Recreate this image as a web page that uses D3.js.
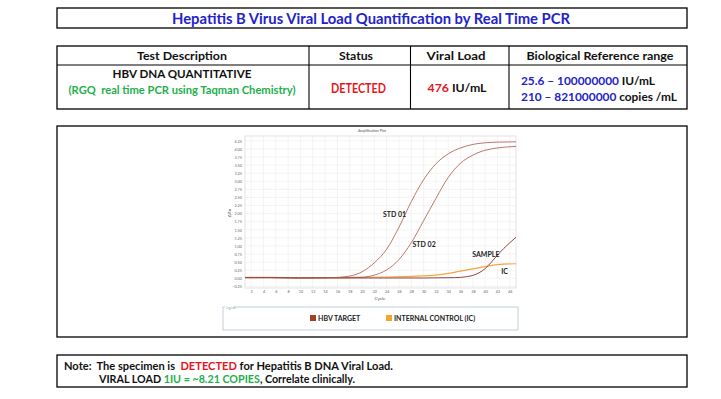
<!DOCTYPE html>
<html>
<head>
<meta charset="utf-8">
<script src="https://cdn.jsdelivr.net/npm/d3@7/dist/d3.min.js"></script>
<style>
  body { margin: 0; background: #fff; }
  svg text { white-space: pre; }
</style>
</head>
<body>
<div id="chart"></div>
<script>
  // values
  var xTicks = [2, 4, 6, 8, 10, 12, 14, 16, 18, 20, 22, 24, 26, 28, 30, 32, 34, 36, 38, 40, 42, 44];
  var yTicks = [-0.25, 0, 0.25, 0.5, 0.75, 1, 1.25, 1.5, 1.75, 2, 2.25, 2.5, 2.75, 3, 3.25, 3.5, 3.75, 4, 4.25];

  var std01Cycles = [1, 5, 10, 15, 18, 20, 22, 24, 26, 28, 30, 32, 34, 36, 38, 40, 42, 45];
  var std01Values = [0.02, 0.02, 0.01, 0.02, 0.07, 0.2, 0.48, 0.9, 1.58, 2.37, 3.05, 3.54, 3.85, 4.03, 4.14, 4.19, 4.21, 4.22];

  var std02Cycles = [1, 5, 10, 15, 18, 20, 22, 24, 26, 28, 30, 32, 34, 36, 38, 40, 42, 45];
  var std02Values = [0.02, 0.02, 0.01, 0.02, 0.02, 0.03, 0.1, 0.26, 0.58, 1.1, 1.78, 2.47, 3.12, 3.56, 3.81, 3.96, 4.03, 4.08];

  var sampleCycles = [1, 5, 10, 15, 20, 25, 30, 35, 37, 38, 39, 40, 41, 42, 43, 44, 45];
  var sampleValues = [0.02, 0.02, 0.01, 0.01, 0.01, 0.01, 0.01, 0.02, 0.05, 0.09, 0.17, 0.3, 0.5, 0.72, 0.92, 1.1, 1.27];

  var icCycles = [1, 5, 10, 15, 20, 24, 28, 32, 34, 36, 38, 40, 42, 45];
  var icValues = [0.03, 0.03, 0.02, 0.02, 0.03, 0.04, 0.06, 0.1, 0.15, 0.22, 0.29, 0.36, 0.42, 0.45];

  var curveNames = ['STD 01', 'STD 02', 'SAMPLE', 'IC'];
  var labelCycles = [23.4, 28.2, 37.9, 42.6];
  var labelValues = [1.88, 0.96, 0.66, 0.14];

  var legendNames = ['HBV TARGET', 'INTERNAL CONTROL (IC)'];

  var blue = '#2323c8', red = '#e8141b', green = '#22b04b', ink = '#111';
  var font = 'Lato, "Open Sans", sans-serif';

  var svg = d3.select('#chart').append('svg')
              .attr('width', 721)
              .attr('height', 399)
              .style('font-family', font);

  // helper: squeeze a text to the width it has in the report
  function txt(x, y, w, size, anchor, parts){
    var t = svg.append('text')
               .attr('x', x)
               .attr('y', y)
               .attr('font-size', size)
               .attr('font-weight', 'bold')
               .attr('text-anchor', anchor)
               .attr('fill', ink);
    parts.forEach(function(p){
      t.append('tspan').attr('fill', p[1] || ink).text(p[0]);
    });
    t.attr('textLength', w).attr('lengthAdjust', 'spacingAndGlyphs');
    return t;
  }

  function box(x, y, w, h){
    svg.append('rect')
       .attr('x', x).attr('y', y)
       .attr('width', w).attr('height', h)
       .attr('fill', 'none')
       .attr('stroke', '#000')
       .attr('stroke-width', 1.3);
  }

  // title
  box(57, 8, 630, 20);
  txt(371, 23.5, 398, 14.5, 'middle', [['Hepatitis B Virus Viral Load Quantification by Real Time PCR', blue]]);

  // table
  box(57, 46, 630, 63);
  svg.append('line').attr('x1', 57).attr('x2', 687).attr('y1', 65).attr('y2', 65).attr('stroke', '#000').attr('stroke-width', 1.1);
  [309, 410.5, 509].forEach(function(cx){
    svg.append('line').attr('x1', cx).attr('x2', cx).attr('y1', 46).attr('y2', 109).attr('stroke', '#000').attr('stroke-width', 1.1);
  });
  txt(182, 60, 90, 12, 'middle', [['Test Description']]);
  txt(356, 60, 34, 12, 'middle', [['Status']]);
  txt(456, 60, 59, 12, 'middle', [['Viral Load']]);
  txt(600, 60, 147, 12, 'middle', [['Biological Reference range']]);

  txt(182, 77.5, 139, 12, 'middle', [['HBV DNA QUANTITATIVE']]);
  txt(182, 94, 227, 11, 'middle', [['(RGQ  real time PCR using Taqman Chemistry)', green]]);
  txt(358.5, 92.5, 55, 12.5, 'middle', [['DETECTED', red]]);
  txt(457, 92, 59, 12, 'middle', [['476', red], [' IU/mL']]);
  txt(521, 85, 134, 12, 'start', [['25.6 \u2013 100000000', blue], [' IU/mL']]);
  txt(521, 101, 156, 12, 'start', [['210 \u2013 821000000', blue], [' copies /mL']]);

  // chart panel
  box(57, 126, 630, 211);

  var x = d3.scaleLinear().domain([1, 45]).range([245, 516]);
  var y = d3.scaleLinear().domain([-0.3, 4.4]).range([288, 136]);

  var plot = svg.append('g');

  plot.append('g').selectAll('line')
      .data(yTicks)
      .enter()
      .append('line')
      .attr('x1', x.range()[0]).attr('x2', x.range()[1])
      .attr('y1', function(d){ return y(d); })
      .attr('y2', function(d){ return y(d); })
      .attr('stroke', '#ececec')
      .attr('stroke-width', 0.6);

  plot.append('g').selectAll('line')
      .data(xTicks)
      .enter()
      .append('line')
      .attr('x1', function(d){ return x(d); })
      .attr('x2', function(d){ return x(d); })
      .attr('y1', y.range()[0]).attr('y2', y.range()[1])
      .attr('stroke', '#ececec')
      .attr('stroke-width', 0.6);

  plot.append('rect')
      .attr('x', 245).attr('y', 136)
      .attr('width', 271).attr('height', 152)
      .attr('fill', 'none')
      .attr('stroke', '#d8d8d8')
      .attr('stroke-width', 0.7);

  var yAxis = plot.append('g')
      .attr('transform', 'translate(245,0)')
      .call(d3.axisLeft(y).tickValues(yTicks).tickSize(0).tickPadding(3).tickFormat(d3.format('.2f')));
  var xAxis = plot.append('g')
      .attr('transform', 'translate(0,288)')
      .call(d3.axisBottom(x).tickValues(xTicks).tickSize(0).tickPadding(2.5));
  [yAxis, xAxis].forEach(function(a){
    a.select('.domain').remove();
    a.selectAll('text').attr('font-size', 3.8).attr('fill', '#666').style('font-family', font);
  });

  plot.append('text')
      .attr('x', 380).attr('y', 300)
      .attr('text-anchor', 'middle')
      .attr('font-size', 4.6)
      .attr('fill', '#555')
      .text('Cycle');
  plot.append('text')
      .attr('transform', 'translate(231,213) rotate(-90)')
      .attr('text-anchor', 'middle')
      .attr('font-size', 4.6)
      .attr('fill', '#555')
      .text('\u0394Rn');
  plot.append('text')
      .attr('x', 372).attr('y', 131.5)
      .attr('text-anchor', 'middle')
      .attr('font-size', 3.6)
      .attr('fill', '#555')
      .text('Amplification Plot');

  var line = d3.line()
               .x(function(d){ return x(d[0]); })
               .y(function(d){ return y(d[1]); })
               .curve(d3.curveMonotoneX);

  var series = [
    { c: icCycles, v: icValues, color: '#f4a444', w: 1.2 },
    { c: std01Cycles, v: std01Values, color: '#b5675c', w: 0.9 },
    { c: std02Cycles, v: std02Values, color: '#b5675c', w: 0.9 },
    { c: sampleCycles, v: sampleValues, color: '#93463a', w: 1 }
  ];
  series.forEach(function(s){
    plot.append('path')
        .datum(d3.zip(s.c, s.v))
        .attr('d', line)
        .attr('fill', 'none')
        .attr('stroke', s.color)
        .attr('stroke-width', s.w);
  });

  plot.append('g').selectAll('text')
      .data(curveNames)
      .enter()
      .append('text')
      .attr('x', function(d, i){ return x(labelCycles[i]); })
      .attr('y', function(d, i){ return y(labelValues[i]); })
      .attr('font-size', 7)
      .attr('font-weight', 'bold')
      .attr('fill', '#222')
      .text(function(d){ return d; });

  // legend
  plot.append('rect')
      .attr('x', 223).attr('y', 307)
      .attr('width', 295).attr('height', 23)
      .attr('fill', 'none')
      .attr('stroke', '#a9bccb')
      .attr('stroke-width', 0.7);
  plot.append('rect')
      .attr('x', 225).attr('y', 305).attr('width', 9).attr('height', 4)
      .attr('fill', '#fff');
  plot.append('text')
      .attr('x', 226).attr('y', 308.5)
      .attr('font-size', 3)
      .attr('fill', '#8aa')
      .text('Legend');

  var legendX = [310, 386];
  var legendColors = ['#a3401d', '#f7a526'];
  legendNames.forEach(function(n, i){
    plot.append('rect')
        .attr('x', legendX[i]).attr('y', 315)
        .attr('width', 6).attr('height', 6)
        .attr('fill', legendColors[i]);
    plot.append('text')
        .attr('x', legendX[i] + 8).attr('y', 321)
        .attr('font-size', 7)
        .attr('font-weight', 'bold')
        .attr('fill', '#222')
        .text(n);
  });

  // note
  box(57, 355, 630, 32);
  txt(64, 369.5, 329, 11.5, 'start', [['Note:  The specimen is  '], ['DETECTED', red], [' for Hepatitis B DNA Viral Load.']]);
  txt(99, 383, 256, 11.5, 'start', [['VIRAL LOAD '], ['1IU = ~8.21 COPIES', green], [', Correlate clinically.']]);
</script>
</body>
</html>
